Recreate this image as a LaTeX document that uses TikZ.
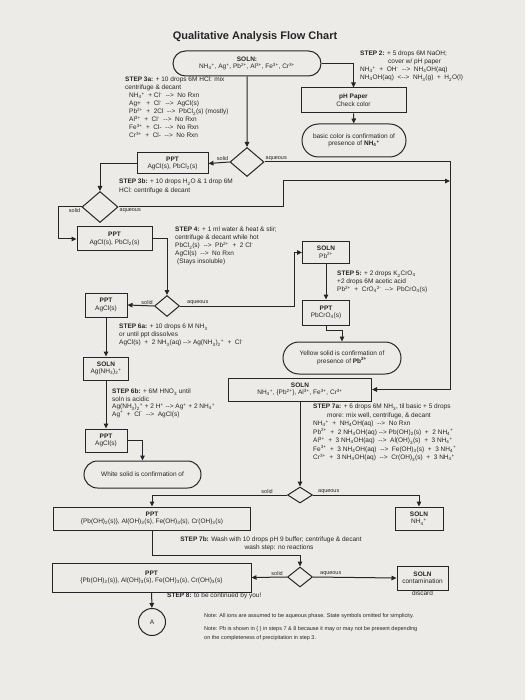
\documentclass[tikz,border=0pt]{standalone}
\usepackage{fontspec}
\setmainfont{Liberation Sans}
\usetikzlibrary{shapes.geometric,shapes.misc,arrows.meta}
\newcommand{\sbs}[1]{\textsubscript{#1}}
\newcommand{\sps}[1]{\textsuperscript{#1}}
\newcommand{\yld}{-{}->}
\newcommand{\eqm}{<-{}->}
\definecolor{ink}{HTML}{262626}
\tikzset{
  box/.style={draw=ink, line width=1pt, rectangle, align=center, inner sep=1pt, text=ink, font=\fontsize{6.5}{7.5}\selectfont},
  pill/.style={box, rounded rectangle},
  decision/.style={draw=ink, line width=1pt, diamond, inner sep=0pt, minimum width=25pt, minimum height=21pt},
  steptext/.style={anchor=north west, align=left, inner sep=0pt, text=ink, font=\fontsize{6.5}{8}\selectfont},
  lbl/.style={inner sep=1pt, text=ink, font=\fontsize{5.5}{6}\selectfont},
  flow/.style={draw=ink, line width=1pt, -{Triangle[length=5pt,width=4.5pt]}},
}
\begin{document}
\begin{tikzpicture}[x=1pt, y=-1pt]
\definecolor{paper}{HTML}{ECEBE7}
\fill[paper] (0,0) rectangle (525,700);
\node[text=ink, font=\bfseries\fontsize{11}{13}\selectfont] (title) at (255,37) {Qualitative Analysis Flow Chart};

\node[pill, minimum width=150pt, minimum height=25pt] (soln0) at (247,63.5) {\textbf{SOLN:}\\NH\sbs{4}\sps{+}, Ag\sps{+}, Pb\sps{2+}, Al\sps{3+}, Fe\sps{3+}, Cr\sps{3+}};
\node[box, minimum width=105pt, minimum height=25pt] (ph) at (353.5,100.5) {\textbf{pH Paper}\\Check color};
\node[pill, minimum width=106pt, minimum height=33pt] (nhconf) at (354,140.5) {basic color is confirmation of\\presence of \textbf{NH\sbs{4}\sps{+}}};
\node[decision, minimum width=34pt, minimum height=29pt] (d1) at (247,162) {};
\node[box, minimum width=71pt, minimum height=21pt] (ppt1) at (172.5,163.5) {\textbf{PPT}\\AgCl(s), PbCl\sbs{2}(s)};
\node[decision, minimum width=36pt, minimum height=31pt] (d2) at (100,207) {};
\node[box, minimum width=75pt, minimum height=24pt] (ppt2) at (114.5,239) {\textbf{PPT}\\AgCl(s), PbCl\sbs{2}(s)};
\node[decision] (d3) at (167,306) {};
\node[box, minimum width=42pt, minimum height=24pt] (ppt3) at (106,305) {\textbf{PPT}\\AgCl(s)};
\node[box, minimum width=47pt, minimum height=21pt] (solnpb) at (326,252.5) {\textbf{SOLN}\\Pb\sps{2+}};
\node[box, minimum width=47pt, minimum height=25pt] (pptcr) at (326,312.5) {\textbf{PPT}\\PbCrO\sbs{4}(s)};
\node[pill, minimum width=120pt, minimum height=32pt] (pbconf) at (342,358) {Yellow solid is confirmation of\\presence of \textbf{Pb\sps{2+}}};
\node[box, minimum width=45pt, minimum height=23pt] (solnag) at (106,368.5) {\textbf{SOLN}\\Ag(NH\sbs{3})\sbs{2}\sps{+}};
\node[box, minimum width=143pt, minimum height=23pt] (soln7) at (300,389.5) {\textbf{SOLN}\\NH\sbs{4}\sps{+}, \{Pb\sps{2+}\}, Al\sps{3+}, Fe\sps{3+}, Cr\sps{3+}};
\node[box, minimum width=42pt, minimum height=23pt] (pptag) at (106,440.5) {\textbf{PPT}\\AgCl(s)};
\node[pill, minimum width=119pt, minimum height=27pt] (agconf) at (142.5,474.5) {White solid is confirmation of};
\node[decision, minimum height=16pt] (d4) at (300,495) {};
\node[box, minimum width=197pt, minimum height=23pt] (ppt5) at (152,518.5) {\textbf{PPT}\\\{Pb(OH)\sbs{2}(s)\}, Al(OH)\sbs{3}(s), Fe(OH)\sbs{3}(s), Cr(OH)\sbs{3}(s)};
\node[box, minimum width=48pt, minimum height=23pt] (solnnh) at (419,518.5) {\textbf{SOLN}\\NH\sbs{4}\sps{+}};
\node[decision, minimum height=20pt] (d5) at (300,577) {};
\node[box, minimum width=199pt, minimum height=29pt] (ppt6) at (151.5,577.5) {\textbf{PPT}\\\{Pb(OH)\sbs{2}(s)\}, Al(OH)\sbs{3}(s), Fe(OH)\sbs{3}(s), Cr(OH)\sbs{3}(s)};
\node[box, minimum width=51pt, minimum height=24pt] (solnc) at (422.5,578) {\textbf{SOLN}\\contamination};
\node[lbl, font=\fontsize{6.5}{7}\selectfont] (discard) at (422.5,593) {discard};
\node[box, circle, minimum size=27pt] (circa) at (152,622) {A};
\coordinate (merge) at (450,181);

\node[steptext] (s2) at (360,51) {\textbf{STEP 2:} + 5 drops 6M NaOH;\\\hspace*{28pt}cover w/ pH paper\\NH\sbs{4}\sps{+} \ + \ OH\sps{-} \ \yld{} \ NH\sbs{4}OH(aq)\\NH\sbs{4}OH(aq) \ \eqm{} \ NH\sbs{3}(g) \ + \ H\sbs{2}O(l)};
\node[steptext] (s3a) at (125,77) {\textbf{STEP 3a:} + 10 drops 6M HCl: mix\\centrifuge \& decant\\
\hspace*{4pt}NH\sbs{4}\sps{+} \ + Cl\sps{-} \ \yld{} \ No Rxn\\
\hspace*{4pt}Ag+ \ \ + \ Cl\sps{-} \ \yld{} \ AgCl(s)\\
\hspace*{4pt}Pb\sps{2+} \ + \ 2Cl \ \yld{} \ PbCl\sbs{2}(s) (mostly)\\
\hspace*{4pt}Al\sps{3+} \ + \ Cl\sps{-} \ \yld{} \ No Rxn\\
\hspace*{4pt}Fe\sps{3+} \ + \ Cl- \ \yld{} \ No Rxn\\
\hspace*{4pt}Cr\sps{3+} \ + \ Cl- \ \yld{} \ No Rxn};
\node[steptext] (s3b) at (119,179) {\textbf{STEP 3b:} + 10 drops H\sbs{2}O \& 1 drop 6M\\[1pt]HCl: centrifuge \& decant};
\node[steptext] (s4) at (175,227) {\textbf{STEP 4:} + 1 ml water \& heat \& stir;\\centrifuge \& decant while hot\\PbCl\sbs{2}(s) \ \yld{} \ Pb\sps{2+} \ + \ 2 Cl\sps{-}\\AgCl(s) \ \yld{} \ No Rxn\\\hspace*{2pt}(Stays insoluble)};
\node[steptext] (s5) at (337,271) {\textbf{STEP 5:} + 2 drops K\sbs{2}CrO\sbs{4}\\+2 drops 6M acetic acid\\Pb\sps{2+} \ + \ CrO\sbs{4}\sps{2-} \ \yld{} \ PbCrO\sbs{4}(s)};
\node[steptext] (s6a) at (119,324) {\textbf{STEP 6a:} + 10 drops 6 M NH\sbs{3}\\or until ppt dissolves\\AgCl(s) \ + \ 2 NH\sbs{3}(aq) \yld{} Ag(NH\sbs{3})\sbs{2}\sps{+} \ + \ Cl\sps{-}};
\node[steptext, font=\fontsize{6.5}{7.5}\selectfont] (s6b) at (112,389) {\textbf{STEP 6b:} + 6M HNO\sbs{3} until\\soln is acidic\\Ag(NH\sbs{3})\sbs{2}\sps{+} + 2 H\sps{+} \yld{} Ag\sps{+} + 2 NH\sbs{4}\sps{+}\\Ag\sps{+} \ + \ Cl\sps{-} \ \yld{} \ AgCl(s)};
\node[steptext, font=\fontsize{6.5}{8.5}\selectfont] (s7a) at (313,404) {\textbf{STEP 7a:} + 6 drops 6M NH\sbs{3}, til basic + 5 drops\\\hspace*{14pt}more: mix well, centrifuge, \& decant\\
NH\sbs{4}\sps{+} \ + \ NH\sbs{4}OH(aq) \ \yld{} \ No Rxn\\
Pb\sps{2+} \ + \ 2 NH\sbs{4}OH(aq) \yld{} Pb(OH)\sbs{2}(s) \ + \ 2 NH\sbs{4}\sps{+}\\
Al\sps{3+} \ + \ 3 NH\sbs{4}OH(aq) \ \yld{} \ Al(OH)\sbs{3}(s) \ + \ 3 NH\sbs{4}\sps{+}\\
Fe\sps{3+} \ + \ 3 NH\sbs{4}OH(aq) \ \yld{} \ Fe(OH)\sbs{3}(s) \ + \ 3 NH\sbs{4}\sps{+}\\
Cr\sps{3+} \ + \ 3 NH\sbs{4}OH(aq) \ \yld{} \ Cr(OH)\sbs{3}(s) \ + \ 3 NH\sbs{4}\sps{+}};
\node[steptext, anchor=center, align=center] (s7b) at (271,544) {\textbf{STEP 7b:} Wash with 10 drops pH 9 buffer; centrifuge \& decant\\\hspace*{16pt}wash step: no reactions};
\node[steptext] (s8) at (167,593) {\textbf{STEP 8:} to be continued by you!};
\node[steptext, font=\fontsize{5.5}{9}\selectfont] (notes) at (204,613) {Note: All ions are assumed to be aqueous phase. State symbols omitted for simplicity.\\[4pt]Note: Pb is shown in \{ \} in steps 7 \& 8 because it may or may not be present depending\\on the completeness of precipitation in step 3.};

\draw[flow] (soln0) -- (d1);
\draw[flow] (soln0.east) -| (ph.north);
\draw[flow] (ph) -- (nhconf);
\draw[flow] (d1.west) -- (ppt1.east);
\node[lbl, above left] at (d1.west) {solid};
\node[lbl, above right] at (d1.east) {aqueous};
\draw[flow] (d1.east) -- (d1.east -| merge) |- (soln7.east);
\draw[flow] (ppt1.west) -| (d2.north);
\draw[flow] (d2.west) -- ++(-23,0) |- (ppt2.west);
\node[lbl, below left] at (d2.west) {solid};
\node[lbl, below right] at (d2.east) {aqueous};
\draw[flow] (d2.east) -- ++(165,0) |- (merge);
\draw[flow] (ppt2.east) -| (d3.north);
\draw[flow] (d3.west) -- (ppt3.east);
\node[lbl, above left] at (d3.west) {solid};
\node[lbl, above right, xshift=6pt] at (d3.east) {aqueous};
\draw[flow] (d3.east) -- ++(114,0) |- (solnpb.west);
\draw[flow] (solnpb) -- (pptcr);
\draw[flow] (pptcr.south) -- ++(0,5) -| (pbconf.north);
\draw[flow] (ppt3) -- (solnag);
\draw[flow] (solnag) -- (pptag);
\draw[flow] (pptag.east) -| (agconf.north);
\draw[flow] (soln7) -- (d4);
\draw[flow] (d4.west) -| (ppt5.north);
\node[lbl, above left, xshift=-13pt] at (d4.west) {solid};
\node[lbl, above right, xshift=4pt] at (d4.east) {aqueous};
\draw[flow] (d4.east) -| (solnnh.north);
\draw[flow] (ppt5.south) -- ++(0,25) -| (d5.north);
\draw[flow] (d5.west) -- (ppt6.east);
\node[lbl, above left, xshift=-3pt] at (d5.west) {solid};
\node[lbl, above right, xshift=6pt] at (d5.east) {aqueous};
\draw[flow] (d5.east) -- (solnc.west);
\draw[flow] (ppt6) -- (circa);
\end{tikzpicture}
\end{document}
